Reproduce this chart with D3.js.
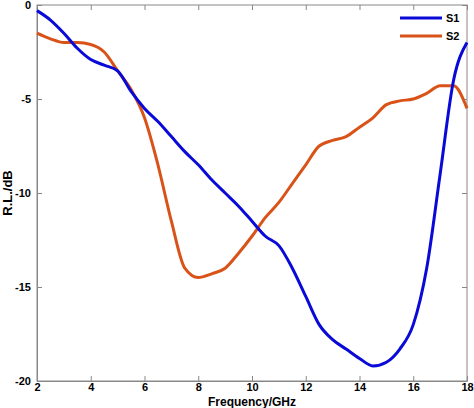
<!DOCTYPE html><html><head><meta charset="utf-8"><script src="https://cdn.jsdelivr.net/npm/d3@7"></script>
<style>body{margin:0;background:#fff}text{font-family:Arial,"Liberation Sans",sans-serif;font-weight:bold}</style></head><body><svg width="474" height="408"></svg><script>
const freq=[2,2.5,3,3.5,4,4.5,5,5.5,6,6.5,7,7.5,8,8.5,9,9.5,10,10.5,11,11.5,12,12.5,13,13.5,14,14.5,15,15.5,16,16.5,17,17.5,18];
const s1=[-0.3,-0.8,-1.5,-2.3,-2.9,-3.2,-3.5,-4.6,-5.5,-6.2,-7.0,-7.8,-8.5,-9.3,-10.0,-10.7,-11.5,-12.3,-12.8,-14.0,-15.5,-17.0,-17.8,-18.3,-18.8,-19.2,-19.0,-18.3,-17.0,-14.0,-9.0,-4.0,-2.0];
const s2=[-1.5,-1.8,-2.0,-2.0,-2.1,-2.5,-3.5,-4.5,-6.0,-8.5,-11.5,-14.0,-14.5,-14.3,-14.0,-13.2,-12.3,-11.3,-10.5,-9.5,-8.5,-7.5,-7.2,-7.0,-6.5,-6.0,-5.3,-5.1,-5.0,-4.7,-4.3,-4.3,-5.5];
const xTicks=[2,4,6,8,10,12,14,16,18], yTicks=[0,-5,-10,-15,-20];
const svg=d3.select("svg");
const x=d3.scaleLinear([2,18],[37,467]), y=d3.scaleLinear([-20,0],[381,5]);
svg.append("rect").attr("x",37).attr("y",5).attr("width",430).attr("height",376).attr("fill","none").attr("stroke","#888");
const xa=svg.append("g").attr("transform","translate(0,381)").call(d3.axisBottom(x).tickValues(xTicks).tickSizeInner(-5).tickSizeOuter(0).tickPadding(2));
const ya=svg.append("g").attr("transform","translate(37,0)").call(d3.axisLeft(y).tickValues(yTicks).tickSizeInner(-5).tickSizeOuter(0).tickPadding(6).tickFormat(d=>d));
[xa,ya].forEach(a=>{a.select(".domain").attr("stroke","#888");a.selectAll("line").attr("stroke","#888");a.selectAll("text").attr("font-size",11).attr("fill","#000");});
svg.append("g").attr("transform","translate(0,5)").call(d3.axisBottom(x).tickValues(xTicks).tickSize(5).tickFormat("")).call(a=>{a.select(".domain").remove();a.selectAll("line").attr("stroke","#888");});
svg.append("g").attr("transform","translate(467,0)").call(d3.axisRight(y).tickValues(yTicks).tickSize(-5).tickFormat("")).call(a=>{a.select(".domain").remove();a.selectAll("line").attr("stroke","#888");});
const line=d=>d3.line().x((v,i)=>x(freq[i])).y(v=>y(v)).curve(d3.curveMonotoneX)(d);
svg.append("path").attr("d",line(s2)).attr("fill","none").attr("stroke","#d95319").attr("stroke-width",3);
svg.append("path").attr("d",line(s1)).attr("fill","none").attr("stroke","#0a0ad8").attr("stroke-width",3);
[["S1","#0a0ad8",18],["S2","#d95319",36]].forEach(([t,c,yy])=>{
svg.append("line").attr("x1",400).attr("x2",442).attr("y1",yy).attr("y2",yy).attr("stroke",c).attr("stroke-width",3);
svg.append("text").attr("x",446).attr("y",yy+4).attr("font-size",11).text(t);});
svg.append("text").attr("x",252).attr("y",406).attr("text-anchor","middle").attr("font-size",12).text("Frequency/GHz");
svg.append("text").attr("transform","translate(12,193) rotate(-90)").attr("text-anchor","middle").attr("font-size",13).text("R.L./dB");
</script></body></html>
